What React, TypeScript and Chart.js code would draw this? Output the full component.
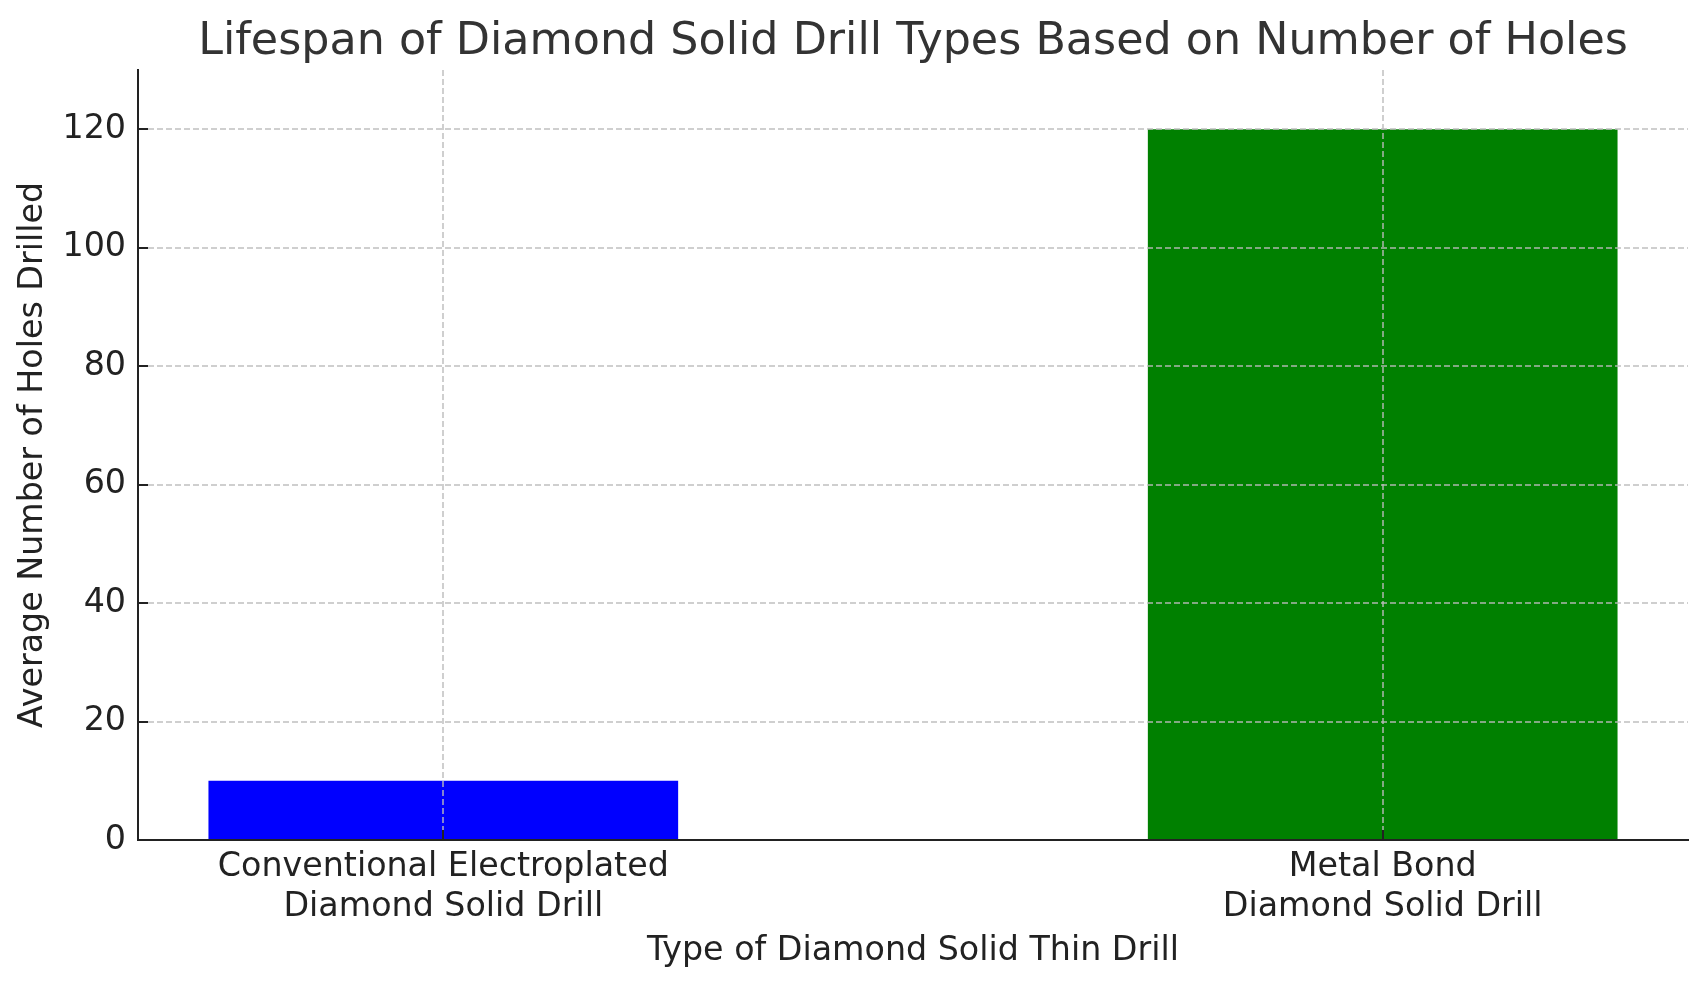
import React, { useEffect, useRef } from "react";
import { Chart, registerables } from "chart.js";

Chart.register(...registerables);

const categories = [
  "Conventional Electroplated\nDiamond Solid Drill",
  "Metal Bond\nDiamond Solid Drill",
];
const avgHoles = [10, 120];
const barColors = ["#0000ff", "#008000"];
const yTicks = [0, 20, 40, 60, 80, 100, 120];
const chartTitle = "Lifespan of Diamond Solid Drill Types Based on Number of Holes";
const xTitle = "Type of Diamond Solid Thin Drill";
const yTitle = "Average Number of Holes Drilled";

const FONT = '"DejaVu Sans", sans-serif';

export default function App() {
  const ref = useRef<HTMLCanvasElement | null>(null);

  useEffect(() => {
    document.body.style.margin = "0";
    const canvas = ref.current;
    if (!canvas) return;

    const titlePlugin = {
      id: "mplTitleTicks",
      afterDraw(chart: any) {
        const { ctx, chartArea, scales } = chart;
        ctx.save();
        // inward ticks
        ctx.strokeStyle = "#222";
        ctx.lineWidth = 2;
        ctx.beginPath();
        scales.y.ticks.forEach((t: any) => {
          const py = Math.round(scales.y.getPixelForValue(t.value));
          ctx.moveTo(chartArea.left, py);
          ctx.lineTo(chartArea.left + 10, py);
        });
        scales.x.ticks.forEach((t: any) => {
          const px = Math.round(scales.x.getPixelForValue(t.value));
          ctx.moveTo(px, chartArea.bottom);
          ctx.lineTo(px, chartArea.bottom - 10);
        });
        ctx.stroke();
        // title
        ctx.fillStyle = "#333";
        ctx.font = `44.4px ${FONT}`;
        ctx.textAlign = "center";
        ctx.textBaseline = "alphabetic";
        ctx.fillText(chartTitle, (chartArea.left + chartArea.right) / 2, 54);
        ctx.restore();
      },
    };

    const chart = new Chart(canvas, {
      type: "bar",
      data: {
        datasets: [
          {
            data: avgHoles.map((v, i) => ({ x: i, y: v })),
            backgroundColor: barColors,
            borderWidth: 0,
            categoryPercentage: 1,
            barPercentage: 0.5,
          },
        ],
      },
      options: {
        animation: false,
        responsive: false,
        devicePixelRatio: 1,
        layout: { padding: { top: 70, right: 19, left: 0, bottom: 0 } },
        plugins: {
          legend: { display: false },
          tooltip: { enabled: false },
          title: { display: false },
        },
        scales: {
          x: {
            type: "linear",
            min: -0.325,
            max: 1.325,
            offset: false,
            afterBuildTicks: (scale: any) => {
              scale.ticks = categories.map((_, i) => ({ value: i }));
            },
            afterFit: (scale: any) => {
              scale.height = 145;
            },
            ticks: {
              z: 2,
              padding: 7,
              color: "#222",
              font: { family: FONT, size: 33.3, lineHeight: 1.2 },
              callback: (v: any) => {
                const c = categories[Math.round(Number(v))];
                return c ? c.split("\n") : "";
              },
              maxRotation: 0,
              autoSkip: false,
            },
            grid: {
              z: 1,
              color: "rgba(186,186,186,0.7)",
              lineWidth: 2,
              drawTicks: false,
              offset: false,
            },
            border: { z: 2, display: true, color: "#222", width: 2, dash: [6, 3] },
            title: {
              display: true,
              text: xTitle,
              color: "#222",
              font: { family: FONT, size: 33.3, lineHeight: 1.2 },
              padding: { top: 0, bottom: 14 },
            },
          },
          y: {
            type: "linear",
            min: 0,
            max: 130,
            afterBuildTicks: (scale: any) => {
              scale.ticks = yTicks.map((v) => ({ value: v }));
            },
            afterFit: (scale: any) => {
              scale.width = 138;
            },
            ticks: {
              z: 2,
              padding: 12,
              color: "#222",
              font: { family: FONT, size: 33.3, lineHeight: 1.2 },
            },
            grid: {
              z: 1,
              color: "rgba(186,186,186,0.7)",
              lineWidth: 2,
              drawTicks: false,
            },
            border: { z: 2, display: true, color: "#222", width: 2, dash: [6, 3] },
            title: {
              display: true,
              text: yTitle,
              color: "#222",
              font: { family: FONT, size: 33.3, lineHeight: 1.2 },
              padding: { top: 13, bottom: 0 },
            },
          },
        },
      },
      plugins: [titlePlugin],
    } as any);

    return () => chart.destroy();
  }, []);

  return (
    <canvas
      ref={ref}
      width={1707}
      height={985}
      style={{ display: "block", width: 1707, height: 985 }}
    />
  );
}
